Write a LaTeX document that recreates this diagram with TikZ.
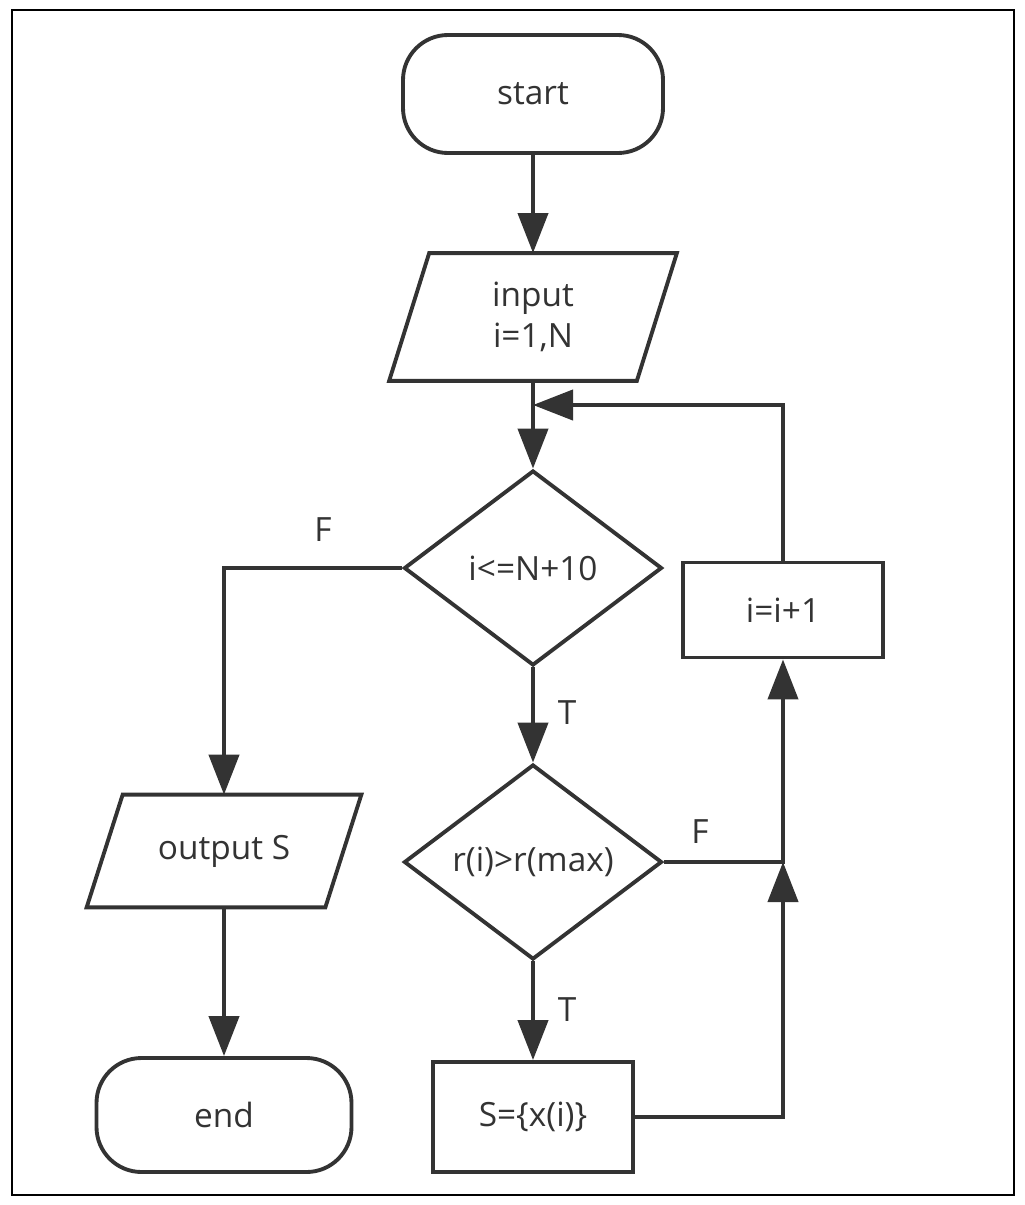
\documentclass[tikz,border=0pt]{standalone}
\usepackage{fontspec}
\setmainfont{Open Sans}
\usetikzlibrary{shapes.geometric,arrows.meta}
\definecolor{ink}{HTML}{333333}
\begin{document}
\begin{tikzpicture}[
    font=\fontsize{19}{23}\selectfont,
    every node/.style={text=ink},
    box/.style={draw=ink,line width=2.2pt,minimum width=#1,inner sep=0pt,align=center},
    term/.style={box=5.2cm,minimum height=2.36cm,rounded corners=0.9cm},
    io/.style={inner sep=0pt,align=center},
    dec/.style={draw=ink,line width=2.2pt,diamond,minimum width=5.16cm,minimum height=3.9cm,inner sep=0pt},
    arr/.style={draw=ink,line width=2.4pt,-{Triangle[length=0.8cm,width=0.6cm]}},
    lab/.style={text=ink}
  ]
  \useasboundingbox (0,0) rectangle (20.48,-24.1);
  \draw[line width=1.6pt] (0.24,-0.2) rectangle (20.28,-23.9);

  \node[term] (start) at (10.66,-1.88) {start};
  \node[io,minimum width=4.94cm,minimum height=2.54cm] (in) at (10.66,-6.34) {input\\i=1,N};
  \draw[ink,line width=2.2pt] ([xshift=0.4cm]in.north west) -- ([xshift=0.4cm]in.north east)
    -- ([xshift=-0.4cm]in.south east) -- ([xshift=-0.4cm]in.south west) -- cycle;
  \node[dec] (d1) at (10.66,-11.36) {i<=N+10};
  \node[box=4cm,minimum height=1.9cm] (inc) at (15.66,-12.2) {i=i+1};
  \node[dec] (d2) at (10.66,-17.24) {r(i)>r(max)};
  \node[io,minimum width=4.76cm,minimum height=2.24cm] (out) at (4.48,-17.02) {output S};
  \draw[ink,line width=2.2pt] ([xshift=0.36cm]out.north west) -- ([xshift=0.36cm]out.north east)
    -- ([xshift=-0.36cm]out.south east) -- ([xshift=-0.36cm]out.south west) -- cycle;
  \node[term,minimum width=5.1cm,minimum height=2.28cm] (end) at (4.48,-22.3) {end};
  \node[box=4cm,minimum height=2.2cm] (s) at (10.66,-22.34) {S=\{x(i)\}};

  \coordinate (j1) at (10.66,-8.1);
  \coordinate (j2) at (15.66,-17.24);

  \draw[arr] (start) -- (in.south |- 0,-5.06);
  \draw[arr] (in.south) -- (d1.north);
  \draw[arr] (inc.north) |- (j1);
  \draw[arr] (d1.west) -| (out.north);
  \draw[arr] (d1.south) -- (d2.north);
  \draw[arr] (d2.east) -| (inc.south);
  \draw[arr] (d2.south) -- (s.north);
  \draw[arr] (s.east) -| (j2);
  \draw[arr] (out.south) -- (end.north);

  \node[lab] (f1) at (6.46,-10.6) {F};
  \node[lab] (t1) at (11.34,-14.26) {T};
  \node[lab] (f2) at (14.0,-16.64) {F};
  \node[lab] (t2) at (11.34,-20.2) {T};
\end{tikzpicture}
\end{document}
